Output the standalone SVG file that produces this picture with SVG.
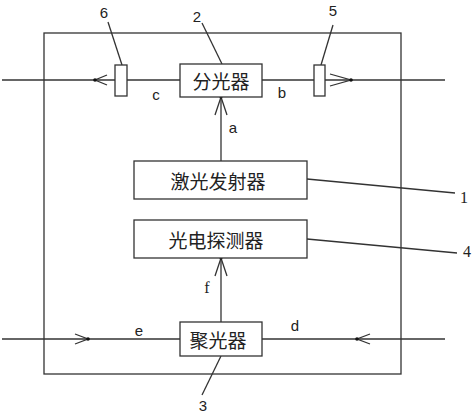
<svg xmlns="http://www.w3.org/2000/svg" width="474" height="413" viewBox="0 0 474 413">
<style>
.ln{stroke:#333;stroke-width:1.3;fill:none}
.bx{stroke:#333;stroke-width:1.3;fill:#fff}
.cj{font-family:"Noto Sans CJK SC","Noto Sans",sans-serif;font-size:19px;fill:#222;text-anchor:middle;dominant-baseline:central}
.lb{font-family:"Liberation Sans",Arial,sans-serif;font-size:15px;fill:#222;text-anchor:middle;dominant-baseline:central}
.lbs{font-family:"Liberation Serif","Times New Roman",serif;font-size:16px;fill:#222;text-anchor:middle;dominant-baseline:central}
.dot{fill:#111}
</style>
<rect width="474" height="413" fill="#fff"/>
<g id="frame"><rect x="44" y="33" width="357" height="341" class="ln"/></g>
<g id="connectors">
<line x1="2" y1="80" x2="445" y2="80" class="ln"/>
<line x1="2" y1="339" x2="445" y2="339" class="ln"/>
<line x1="221" y1="97" x2="221" y2="161" class="ln"/>
<line x1="221" y1="258" x2="221" y2="322" class="ln"/>
<path d="M107,75 L95,80 L107,85" class="ln"/><circle cx="95" cy="80" r="1.8" class="dot"/>
<path d="M330,74 L351,80 L330,86" class="ln"/><circle cx="351" cy="80" r="1.8" class="dot"/>
<path d="M215,115 L221,97 L227,115" class="ln"/><circle cx="221" cy="97" r="1.6" class="dot"/>
<path d="M215,276 L221,258 L227,276" class="ln"/><circle cx="221" cy="258" r="1.6" class="dot"/>
<path d="M75,334 L88,339 L75,344" class="ln"/><circle cx="88" cy="339" r="1.8" class="dot"/>
<path d="M370,334 L357,339 L370,344" class="ln"/><circle cx="357" cy="339" r="1.8" class="dot"/>
<line x1="108" y1="22" x2="122" y2="65" class="ln"/>
<line x1="202" y1="23" x2="222" y2="64" class="ln"/>
<line x1="333" y1="25" x2="321" y2="65" class="ln"/>
<line x1="307" y1="179" x2="455" y2="193" class="ln"/>
<line x1="307" y1="239" x2="457" y2="253" class="ln"/>
<line x1="221" y1="356" x2="202" y2="395" class="ln"/>
</g>
<g id="n6"><rect x="115" y="65" width="12" height="31" class="bx"/><text x="104" y="12" class="lb">6</text></g>
<g id="n5"><rect x="314" y="65" width="11" height="31" class="bx"/><text x="333" y="10" class="lb">5</text></g>
<g id="n2"><rect x="180" y="64" width="82" height="33" class="bx"/><text x="221" y="80" class="cj">分光器</text><text x="197" y="16" class="lb">2</text></g>
<g id="n1"><rect x="134" y="161" width="173" height="38" class="bx"/><text x="218" y="180" class="cj">激光发射器</text><text x="464" y="197" class="lbs">1</text></g>
<g id="n4"><rect x="134" y="220" width="173" height="38" class="bx"/><text x="216" y="239" class="cj">光电探测器</text><text x="467" y="251" class="lbs">4</text></g>
<g id="n3"><rect x="180" y="322" width="82" height="34" class="bx"/><text x="218" y="339" class="cj">聚光器</text><text x="203" y="405" class="lb">3</text></g>
<g id="labels">
<text x="156" y="94" class="lb">c</text>
<text x="282" y="92" class="lb">b</text>
<text x="233" y="127" class="lb">a</text>
<text x="207" y="287" class="lbs">f</text>
<text x="139" y="330" class="lb">e</text>
<text x="295" y="325" class="lb">d</text>
</g>
</svg>
